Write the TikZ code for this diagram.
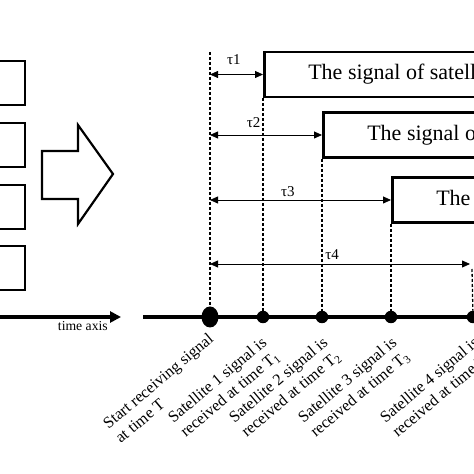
\documentclass[tikz,border=0pt]{standalone}
\usepackage{fontspec}
\setmainfont{Liberation Serif}
\usetikzlibrary{shapes,arrows.meta,positioning,calc}

\begin{document}
\begin{tikzpicture}[x=1pt, y=1pt,
    sigbox/.style={rectangle, draw, line width=2.6pt, minimum height=45pt, inner xsep=44pt, anchor=west, font=\fontsize{22}{26}\selectfont},
    inbox/.style={rectangle, draw, line width=2.6pt, minimum width=60pt, minimum height=44pt},
    tick/.style={circle, fill, inner sep=0pt, minimum size=12.5pt},
    guide/.style={dash pattern=on 3pt off 2pt, line width=1.3pt},
    delay/.style={{Triangle[length=8pt,width=7pt]}-{Triangle[length=8pt,width=7pt]}, line width=0.8pt},
    tlabel/.style={font=\fontsize{15}{18}\selectfont, inner sep=0pt},
    event/.style={rotate=40, anchor=north east, align=left, inner sep=0pt, font=\fontsize{16.2}{19}\selectfont}]
    \clip (0,0) rectangle (474,474);
    % input boxes, cut by the left edge
    \foreach \y [count=\i] in {391,329,267,206}
        \node [inbox] (in\i) at (-5,\y) {};
    \draw[line width=2.2pt, line join=miter] (42,323) -- (78,323) -- (78,349) -- (113,300) -- (78,250) -- (78,275) -- (42,275) -- cycle;
    % time axis on the left
    \coordinate (axL) at (-5,157);
    \coordinate (axR) at (121,157);
    \draw[line width=4.5pt, -{Triangle[length=11pt,width=11pt]}] (axL) -- (axR);
    \node [anchor=north east, inner sep=0pt, font=\fontsize{13.7}{16}\selectfont] (taxis) at (108,153) {time axis};
    % time axis on the right
    \coordinate (axS) at (143,157);
    \coordinate (axE) at (480,157);
    \draw[line width=4.5pt] (axS) -- (axE);
    \node [ellipse, fill, inner sep=0pt, minimum width=17pt, minimum height=21pt] (t0) at (210,157) {};
    \node [tick] (t1) at (263,157) {};
    \node [tick] (t2) at (322,157) {};
    \node [tick] (t3) at (391,157) {};
    \node [tick] (t4) at (473,157) {};
    % signals
    \node [sigbox] (s1) at (263,399.5) {The signal of satellite 1};
    \node [sigbox] (s2) at (322,339) {The signal of satellite 2};
    \node [sigbox] (s3) at (391,274) {The signal of satellite 3};
    \coordinate (top0) at (210,422);
    \coordinate (top4) at (472,205);
    \coordinate (e4) at (470,210);
    \draw[guide] (top0) -- (t0);
    \draw[guide] (s1.south west) -- (t1);
    \draw[guide] (s2.south west) -- (t2);
    \draw[guide] (s3.south west) -- (t3);
    \draw[guide] (top4) -- (t4);
    % delays
    \draw[delay] (t0 |- s1.west) -- (s1.west) node[tlabel, pos=0.45, above=9pt] (tau1) {τ1};
    \draw[delay] (t0 |- s2.west) -- (s2.west) node[tlabel, pos=0.39, above=7pt] (tau2) {τ2};
    \draw[delay] (t0 |- s3.west) -- (s3.west) node[tlabel, pos=0.43, above=3pt] (tau3) {τ3};
    \draw[delay] (t0 |- e4) -- (e4) node[tlabel, pos=0.47, above=4pt] (tau4) {τ4};
    % events
    \node [event] (ev0) at ($(t0)+(-3,-15)$) {Start receiving signal\\at time T};
    \node [event] (ev1) at ($(t1)+(-2,-18)$) {Satellite 1 signal is\\received at time T\textsubscript{1}};
    \node [event] (ev2) at ($(t2)+(0,-18)$) {Satellite 2 signal is\\received at time T\textsubscript{2}};
    \node [event] (ev3) at ($(t3)+(0,-18)$) {Satellite 3 signal is\\received at time T\textsubscript{3}};
    \node [event] (ev4) at ($(t4)+(0,-18)$) {Satellite 4 signal is\\received at time T\textsubscript{4}};
\end{tikzpicture}
\end{document}
